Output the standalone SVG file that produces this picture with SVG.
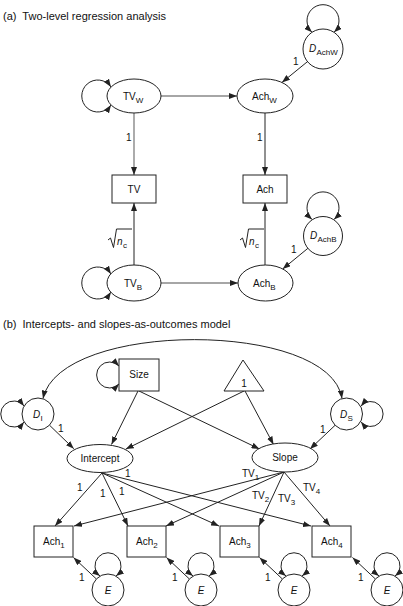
<svg xmlns="http://www.w3.org/2000/svg" width="403" height="606" viewBox="0 0 403 606">
<style>
text{font-family:"Liberation Sans",Arial,sans-serif;font-size:10px;fill:#111}
.t{font-size:11px}
.c{text-anchor:middle}
.i{font-style:italic}
.s{font-size:8px}
.n{fill:#fff;stroke:#222;stroke-width:1}
.e{fill:none;stroke:#222;stroke-width:1}
.a{marker-end:url(#ah)}
.b{marker-start:url(#ah);marker-end:url(#ah)}
.g{stroke:#888;stroke-width:1.4}
</style>
<defs>
<marker id="ah" markerUnits="userSpaceOnUse" markerWidth="8" markerHeight="6" refX="8" refY="3" orient="auto-start-reverse">
<path d="M0,0 L8,3 L0,6 z" fill="#222"/>
</marker>
</defs>
<text class="t" x="3" y="20" xml:space="preserve">(a)  Two-level regression analysis</text>
<text class="t" x="3" y="328" xml:space="preserve">(b)  Intercepts- and slopes-as-outcomes model</text>
<g id="connectors">
<path class="e g a" d="M161 96 L237 96"/>
<path class="e a" d="M307.5 61.6 L282 82.4"/>
<path class="e g a" d="M134 113 L134 175"/>
<path class="e a" d="M265 113 L265 175"/>
<path class="e a" d="M134 265 L134 203"/>
<path class="e a" d="M265 265 L265 203"/>
<path class="e g a" d="M161 283 L238 283"/>
<path class="e a" d="M307.9 248.3 L282.7 269"/>
<path class="e b" d="M111 87 A16 16 0 1 0 111 105"/>
<path class="e b" d="M111 274 A16 16 0 1 0 111 292"/>
<path class="e b" d="M312 32.3 A16 16 0 1 1 334 32.3"/>
<path class="e b" d="M312 219.5 A16 16 0 1 1 334 219.5"/>
<text x="126" y="141">1</text>
<text x="257" y="141">1</text>
<text x="293" y="65">1</text>
<text x="291" y="253">1</text>
<path class="e" d="M108 240 L110.5 238 L113.5 247.5 L116.5 229 L132 229"/>
<text class="i" x="117" y="245">n</text><text class="s" x="123" y="248">c</text>
<path class="e" d="M240 240 L242.5 238 L245.5 247.5 L248.5 229 L264 229"/>
<text class="i" x="249" y="245">n</text><text class="s" x="255" y="248">c</text>
<path class="e b" d="M43 398.5 C60 320 330 320 342 398.5"/>
<path class="e b" d="M24 406 A13 13 0 1 0 24 422"/>
<path class="e b" d="M361 406 A12.5 12.5 0 1 1 361 422"/>
<path class="e b" d="M119 366 A13 13 0 1 0 119 384"/>
<path class="e a" d="M49.5 425.2 L73.8 448.7"/>
<path class="e a" d="M138 391 L111.5 444.5"/>
<path class="e a" d="M244 391 L125.8 449.1"/>
<path class="e a" d="M139 391 L259.5 449"/>
<path class="e a" d="M245 391 L273.5 444.5"/>
<path class="e a" d="M335.4 425 L310 449"/>
<text x="58" y="432">1</text>
<text x="320" y="433">1</text>
<path class="e a" d="M102 473 L55 526"/>
<path class="e a" d="M102 473 L128 526"/>
<path class="e a" d="M102 473 L219 526"/>
<path class="e a" d="M102 473 L311 526"/>
<path class="e a" d="M284 472 L74 526"/>
<path class="e a" d="M284 472 L166 526"/>
<path class="e a" d="M284 472 L259 526"/>
<path class="e a" d="M284 472 L330 526"/>
<text x="77" y="491">1</text>
<text x="100" y="497">1</text>
<text x="119" y="495">1</text>
<text x="125" y="477">1</text>
<text x="242" y="477">TV<tspan class="s" dy="3">1</tspan></text>
<text x="252" y="499">TV<tspan class="s" dy="3">2</tspan></text>
<text x="278" y="502">TV<tspan class="s" dy="3">3</tspan></text>
<text x="303" y="491">TV<tspan class="s" dy="3">4</tspan></text>
<path class="e a" d="M96.4 579 L73.5 557.5"/>
<path class="e a" d="M189.4 579 L166.5 557.5"/>
<path class="e a" d="M282.4 579 L259.5 557.5"/>
<path class="e a" d="M375.4 579 L352.5 557.5"/>
<path class="e b" d="M100 576 A13 13 0 1 1 116 576"/>
<path class="e b" d="M193 576 A13 13 0 1 1 209 576"/>
<path class="e b" d="M286 576 A13 13 0 1 1 302 576"/>
<path class="e b" d="M379 576 A13 13 0 1 1 395 576"/>
<text x="79" y="581">1</text>
<text x="172" y="581">1</text>
<text x="265" y="581">1</text>
<text x="358" y="581">1</text>
</g>
<g id="TVW"><ellipse class="n" cx="134" cy="96" rx="27" ry="17"/><text x="123" y="100">TV<tspan class="s" dy="3">W</tspan></text></g>
<g id="AchW"><ellipse class="n" cx="265" cy="96" rx="28" ry="17"/><text x="252" y="100">Ach<tspan class="s" dy="3">W</tspan></text></g>
<g id="DAchW"><circle class="n" cx="323" cy="49" r="20"/><text class="i" x="309" y="52">D</text><text class="s" x="316.5" y="55">AchW</text></g>
<g id="TV"><rect class="n" x="112" y="175" width="44" height="28"/><text class="c" x="134" y="192.5">TV</text></g>
<g id="Ach"><rect class="n" x="243" y="175" width="44" height="28"/><text class="c" x="265" y="192.5">Ach</text></g>
<g id="TVB"><ellipse class="n" cx="134" cy="283" rx="27" ry="18"/><text x="124" y="287">TV<tspan class="s" dy="3">B</tspan></text></g>
<g id="AchB"><ellipse class="n" cx="265.5" cy="283" rx="27.5" ry="18"/><text x="253" y="287">Ach<tspan class="s" dy="3">B</tspan></text></g>
<g id="DAchB"><circle class="n" cx="323" cy="236" r="19.5"/><text class="i" x="310" y="239">D</text><text class="s" x="317.5" y="242">AchB</text></g>
<g id="Size"><rect class="n" x="119" y="359" width="40" height="32"/><text class="c" x="139" y="378">Size</text></g>
<g id="One"><polygon class="n" points="243,360 224,391 264,391"/><text class="c" x="244" y="387">1</text></g>
<g id="DI"><circle class="n" cx="38" cy="414" r="16"/><text class="i" x="33" y="418">D</text><text class="s" x="40.5" y="421">I</text></g>
<g id="DS"><circle class="n" cx="346.5" cy="414" r="16"/><text class="i" x="340" y="418">D</text><text class="s" x="347.5" y="421">S</text></g>
<g id="Intercept"><ellipse class="n" cx="100" cy="458.5" rx="33" ry="14"/><text class="c" x="100" y="462">Intercept</text></g>
<g id="Slope"><ellipse class="n" cx="285" cy="457.5" rx="33" ry="14.5"/><text class="c" x="285" y="461">Slope</text></g>
<g id="Ach1"><rect class="n" x="34" y="526" width="39" height="31"/><text x="43" y="545">Ach<tspan class="s" dy="3">1</tspan></text></g>
<g id="Ach2"><rect class="n" x="127" y="526" width="39" height="31"/><text x="136" y="545">Ach<tspan class="s" dy="3">2</tspan></text></g>
<g id="Ach3"><rect class="n" x="220" y="526" width="39" height="31"/><text x="229" y="545">Ach<tspan class="s" dy="3">3</tspan></text></g>
<g id="Ach4"><rect class="n" x="312" y="526" width="39" height="31"/><text x="321" y="545">Ach<tspan class="s" dy="3">4</tspan></text></g>
<g id="E1"><circle class="n" cx="108" cy="590" r="16"/><text class="c i" x="108" y="594">E</text></g>
<g id="E2"><circle class="n" cx="201" cy="590" r="16"/><text class="c i" x="201" y="594">E</text></g>
<g id="E3"><circle class="n" cx="294" cy="590" r="16"/><text class="c i" x="294" y="594">E</text></g>
<g id="E4"><circle class="n" cx="387" cy="590" r="16"/><text class="c i" x="387" y="594">E</text></g>
</svg>
